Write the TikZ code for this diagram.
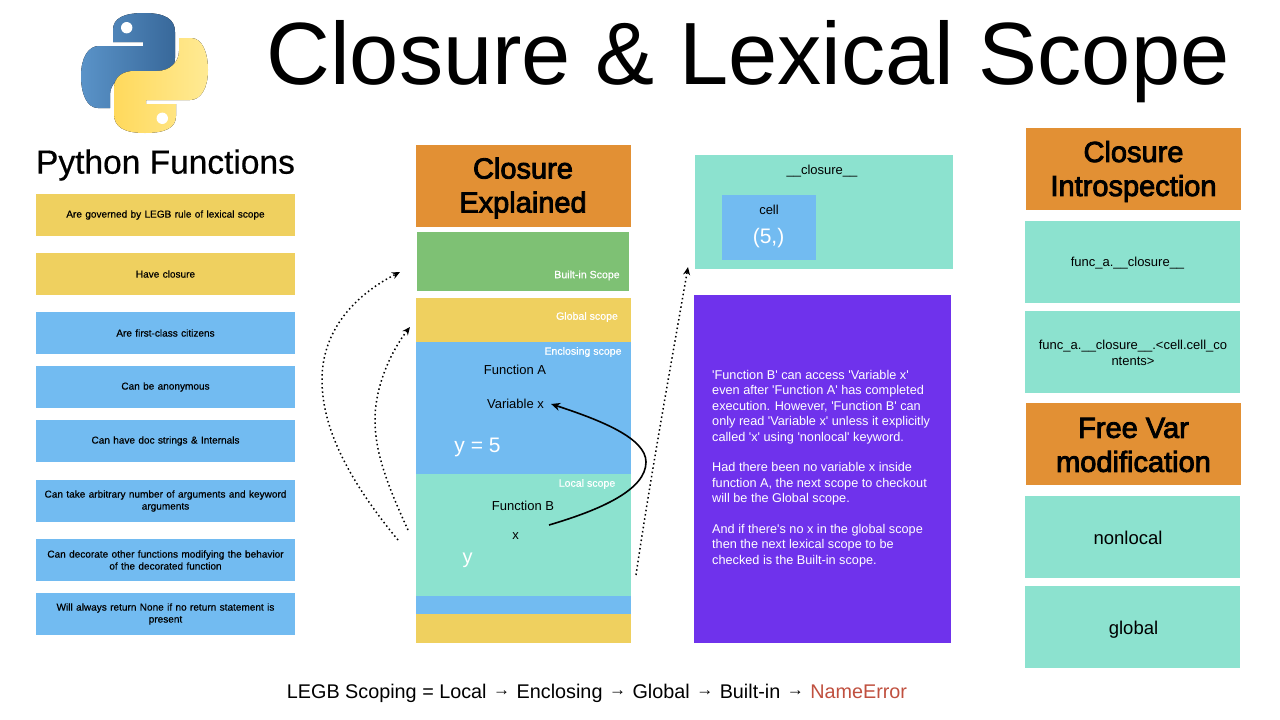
\documentclass[tikz,border=0pt]{standalone}
\usepackage{fontspec}
\setmainfont{Liberation Sans}
\newfontfamily\medfont[FakeBold=0.5]{Liberation Sans}
\newfontfamily\headfont[FakeBold=3]{Liberation Sans}
\usepackage{tikz}
\usetikzlibrary{arrows.meta}
\usetikzlibrary{positioning}
\definecolor{boxyellow}{HTML}{EFD05F}
\definecolor{boxblue}{HTML}{72BBF1}
\definecolor{boxteal}{HTML}{8CE2CF}
\definecolor{boxorange}{HTML}{E29034}
\definecolor{boxgreen}{HTML}{7EC174}
\definecolor{boxpurple}{HTML}{6F32EC}
\definecolor{errred}{HTML}{C0503F}
\definecolor{snakeblueleft}{HTML}{5A93C8}
\definecolor{snakeblueright}{HTML}{38689A}
\definecolor{snakeyellowleft}{HTML}{FFD95C}
\definecolor{snakeyellowright}{HTML}{FFEA94}
\newcommand{\snakepath}{(113,42) -- (113,30) .. controls (113,18) and (124,13) .. (144,13)
  .. controls (165,13) and (175,19) .. (175,32) -- (175,58)
  .. controls (175,69) and (166,75) .. (155,75) -- (132,75)
  .. controls (119,75) and (110,84) .. (110,95) -- (110,108) -- (98,108)
  .. controls (87,108) and (81,94) .. (81,76) .. controls (81,58) and (88,46) .. (99,46)
  -- (143,46) -- (143,42) -- cycle}
\newcommand{\qt}{\textquotesingle}
\newcommand{\nextstep}{\hspace{6.5pt}\raisebox{2.5pt}{\fontsize{17}{17}\selectfont →}\hspace{6.5pt}}
\begin{document}
\begin{tikzpicture}
  [
    x = 1pt, y = -1pt,
    node distance = 12pt and 0pt,
    box/.style = {draw = none, anchor = north west, inner sep = 0pt, outer sep = 0pt,
                  align = center},
    fact/.style = {box, minimum width = 259pt, minimum height = 42pt, text width = 255pt,
                   font = \medfont\fontsize{10.05}{12}\selectfont},
    yfact/.style = {fact, fill = boxyellow},
    bfact/.style = {fact, fill = boxblue},
    head/.style = {box, fill = boxorange, minimum width = 215pt, minimum height = 82pt},
    headtxt/.style = {inner sep = 0pt, align = center, font = \headfont\fontsize{29}{34}\selectfont},
    side/.style = {box, fill = boxteal, minimum width = 215pt, minimum height = 82pt},
    tag/.style = {text = white, inner sep = 0pt, font = \medfont\fontsize{10.6}{12}\selectfont},
    lbl/.style = {inner sep = 0pt, align = center, font = \fontsize{13}{16}\selectfont},
    big/.style = {text = white, inner sep = 0pt, font = \fontsize{21}{25}\selectfont},
    kw/.style = {inner sep = 0pt, font = \fontsize{18.5}{22}\selectfont},
    hop/.style = {-{Stealth[length = 8pt, width = 7pt]}, line width = 1.5pt,
                  dash pattern = on 1.5pt off 2.8pt},
    back/.style = {-{Stealth[length = 9pt, width = 8pt]}, line width = 1.6pt},
  ]
  \useasboundingbox (0,0) rectangle (1280,720);

  % logo
  \fill[left color = snakeblueleft, right color = snakeblueright]
    \snakepath;
  \fill[white] (126.7,27.7) circle (5.7);
  \begin{scope}[rotate around = {180:(144.5,73)}]
    \fill[left color = snakeyellowleft, right color = snakeyellowright]
      \snakepath;
    \fill[white] (126.7,27.7) circle (5.7);
  \end{scope}

  % titles
  \node[inner sep = 0pt, font = \fontsize{88.4}{90}\selectfont] (title) at (748,62) {Closure \& Lexical Scope};
  \node[inner sep = 0pt, font = \medfont\fontsize{33.5}{36}\selectfont] (pyfunc) at (165.5,165) {Python Functions};

  % left column
  \node[yfact] (rule) at (36,194) {Are governed by LEGB rule of lexical scope};
  \node[yfact, below = 17pt of rule.south west, anchor = north west] (closure) {Have closure};
  \node[bfact, below = 17pt of closure.south west, anchor = north west] (first) {Are first-class citizens};
  \node[bfact, below = of first.south west, anchor = north west] (anon) {Can be anonymous};
  \node[bfact, below = of anon.south west, anchor = north west] (doc) {Can have doc strings \& Internals};
  \node[bfact, below = 18pt of doc.south west, anchor = north west] (args) {Can take arbitrary number of arguments and keyword\\arguments};
  \node[bfact, below = 17pt of args.south west, anchor = north west] (deco) {Can decorate other functions modifying the behavior\\of the decorated function};
  \node[bfact, below = 12pt of deco.south west, anchor = north west] (none) {Will always return None if no return statement is\\present};

  % scope stack
  \node[head] (explained) at (416,145) {};
  \node[headtxt] (explainedtxt) at (523,188) {Closure\\Explained};
  \node[box, fill = boxgreen, minimum width = 212pt, minimum height = 59pt] (builtin) at (417,232) {};
  \node[box, fill = boxyellow, minimum width = 215pt, minimum height = 44pt] (global) at (416,298) {};
  \node[box, fill = boxblue, minimum width = 215pt, minimum height = 132pt] (enclosing) at (416,342) {};
  \node[box, fill = boxteal, minimum width = 215pt, minimum height = 122pt] (local) at (416,474) {};
  \node[box, fill = boxblue, minimum width = 215pt, minimum height = 18pt] (endblue) at (416,596) {};
  \node[box, fill = boxyellow, minimum width = 215pt, minimum height = 29pt] (endyellow) at (416,614) {};

  \node[tag] (builtintag) at (587,275.5) {Built-in Scope};
  \node[tag] (globaltag) at (587,317) {Global scope};
  \node[tag] (enclosingtag) at (583,352) {Enclosing scope};
  \node[tag] (localtag) at (587,484) {Local scope};
  \node[lbl] (funca) at (515,369.5) {Function A};
  \node[lbl, inner xsep = 7pt] (varx) at (515.5,404) {Variable x};
  \node[big] (yfive) at (477.5,447) {y = 5};
  \node[lbl] (funcb) at (523,506) {Function B};
  \node[lbl] (x) at (515.5,536) {x};
  \node[big, font = \fontsize{20}{24}\selectfont] (y) at (467.5,560) {y};

  % closure box
  \node[box, fill = boxteal, minimum width = 258pt, minimum height = 114pt] (dunder) at (695,155) {};
  \node[lbl] (dundertxt) at (822,171) {\_\_closure\_\_};
  \node[box, fill = boxblue, minimum width = 94pt, minimum height = 65pt] (cell) at (722,195) {};
  \node[lbl] (celltxt) at (769,210) {cell};
  \node[big] (cellval) at (768.5,238) {(5,)};

  % explanation
  \node[box, fill = boxpurple, minimum width = 257pt, minimum height = 348pt] (why) at (694,295) {};
  \node[inner sep = 0pt, anchor = north west, align = left, text = white,
        font = \fontsize{12.7}{15.4}\selectfont] (whytxt) at (712,370)
    {\qt Function B\qt{} can access \qt Variable x\qt\\
     even after \qt Function A\qt{} has completed\\
     execution. However, \qt Function B\qt{} can\\
     only read \qt Variable x\qt{} unless it explicitly\\
     called \qt x\qt{} using \qt nonlocal\qt{} keyword.\\[15.4pt]
     Had there been no variable x inside\\
     function A, the next scope to checkout\\
     will be the Global scope.\\[15.4pt]
     And if there\qt s no x in the global scope\\
     then the next lexical scope to be\\
     checked is the Built-in scope.};

  % right column
  \node[head] (intro) at (1026,128) {};
  \node[headtxt] (introtxt) at (1133.5,171.5) {Closure\\Introspection};
  \node[side] (funcclosure) at (1025,221) {};
  \node[lbl] (funcclosuretxt) at (1127.5,263) {func\_a.\_\_closure\_\_};
  \node[side] (cellcontents) at (1025,311) {};
  \node[lbl] (cellcontentstxt) at (1133,352.5) {func\_a.\_\_closure\_\_.<cell.cell\_co\\ntents>};
  \node[head] (freevar) at (1026,403) {};
  \node[headtxt] (freevartxt) at (1133.5,445) {Free Var\\modification};
  \node[side] (nonlocal) at (1025,496) {};
  \node[kw] (nonlocaltxt) at (1128,538) {nonlocal};
  \node[side] (globalkw) at (1025,586) {};
  \node[kw] (globaltxt) at (1133.5,630) {global};

  % footer
  \node[inner sep = 0pt, font = \fontsize{19.8}{24}\selectfont] (legb) at (597,693)
    {LEGB Scoping = Local\nextstep Enclosing\nextstep Global\nextstep Built-in\nextstep \textcolor{errred}{NameError}};

  % free ends of the connectors
  \coordinate (outera) at (398,540);
  \coordinate (outerb) at (400,272);
  \coordinate (innera) at (408,530);
  \coordinate (innerb) at (410,327);
  \coordinate (sidea) at (636,575);
  \coordinate (sideb) at (688,267);
  \coordinate (backa) at (549,525);

  \draw[hop] (outera) .. controls (340,470) and (322,420) .. (322,380) .. controls (322,330) and (355,295) .. (outerb);
  \draw[hop] (innera) .. controls (385,480) and (375,450) .. (375,420) .. controls (375,385) and (392,350) .. (innerb);
  \draw[hop] (sidea) .. controls (650,480) and (670,370) .. (sideb);
  \draw[back] (backa) .. controls (600,510) and (646,490) .. (646,462) .. controls (646,438) and (600,420) .. (varx.east);
\end{tikzpicture}
\end{document}
